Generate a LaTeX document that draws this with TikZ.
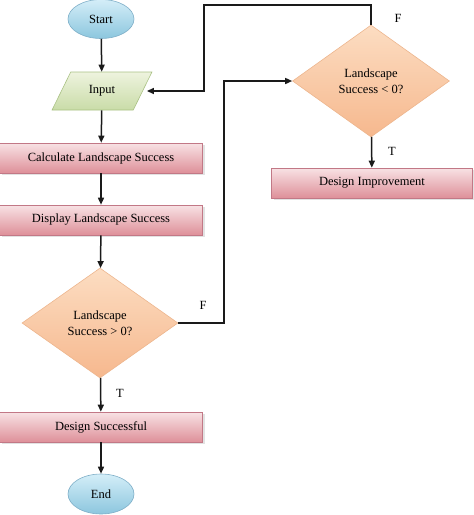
\documentclass[tikz,border=0pt]{standalone}
\usepackage{fontspec}
\setmainfont{Liberation Serif}
\usetikzlibrary{shapes.geometric,arrows.meta,shadows}
\definecolor{termtop}{HTML}{D4EEF8}
\definecolor{termbot}{HTML}{8CC6DE}
\definecolor{termline}{HTML}{7FAFC8}
\definecolor{iotop}{HTML}{EEF3DE}
\definecolor{iobot}{HTML}{C9DCA8}
\definecolor{ioline}{HTML}{A9C184}
\definecolor{boxtop}{HTML}{F8E2E4}
\definecolor{boxbot}{HTML}{DE9099}
\definecolor{boxline}{HTML}{C27886}
\definecolor{dectop}{HTML}{FCDDC2}
\definecolor{decbot}{HTML}{F6B88E}
\definecolor{decline}{HTML}{EDB68E}
\definecolor{lnk}{HTML}{1A1A1A}
\begin{document}
\begin{tikzpicture}[x=1pt,y=-1pt,
  every node/.style={font=\fontsize{12.5}{14}\selectfont, text=black},
  term/.style={ellipse, draw=termline, line width=0.6pt, top color=termtop, bottom color=termbot, minimum width=66pt, minimum height=39pt, inner sep=0pt},
  io/.style={trapezium, trapezium left angle=54, trapezium right angle=126, trapezium stretches=true, draw=ioline, line width=0.6pt, top color=iotop, bottom color=iobot, minimum width=100pt, minimum height=38pt, inner sep=0pt},
  procbox/.style={rectangle, draw=boxline, line width=0.6pt, top color=boxtop, bottom color=boxbot, minimum height=30pt, inner sep=0pt, drop shadow={shadow xshift=2pt, shadow yshift=-2pt, fill=gray!45}},
  dec/.style={diamond, draw=decline, line width=0.6pt, top color=dectop, bottom color=decbot, inner sep=0pt, align=center, font=\fontsize{12.5}{15.5}\selectfont},
  arr/.style={draw=lnk, line width=1.5pt, -{Triangle[length=7pt, width=6pt]}},
  lbl/.style={font=\fontsize{12.5}{14}\selectfont}
]
\useasboundingbox (0,0) rectangle (474,515);

\node[term] (start) at (101,19) {Start};
\node[io] (input) at (102,91) {Input};
\node[procbox, minimum width=203pt] (calc) at (101,158) {Calculate Landscape Success};
\node[procbox, minimum width=203pt] (disp) at (101,220) {Display Landscape Success};
\node[dec, minimum width=156pt, minimum height=110pt] (d1) at (100,323) {Landscape\\Success > 0?};
\node[procbox, minimum width=203pt] (succ) at (101,427) {Design Successful};
\node[term, minimum height=40pt] (end) at (101,494) {End};

\node[dec, minimum width=157pt, minimum height=112pt] (d2) at (371,81) {Landscape\\Success < 0?};
\node[procbox, minimum width=201pt] (impr) at (372,183) {Design Improvement};

\coordinate (r1) at (224,323);
\coordinate (t1) at (204,5);

\draw[arr] (start) -- (input);
\draw[arr] (input) -- (calc);
\draw[arr] (calc) -- (disp);
\draw[arr] (disp) -- (d1);
\draw[arr] (d1) -- (succ);
\draw[arr] (succ) -- (end);
\draw[arr] (d1.east) -- (r1) |- (d2.west);
\draw[arr] (d2) -- (impr);
\draw[arr, shorten >=4pt] (d2.north) |- (t1) |- (input.east);

\node[lbl] (f1) at (203,305) {F};
\node[lbl] (tt1) at (120,393) {T};
\node[lbl] (f2) at (398,18) {F};
\node[lbl] (tt2) at (392,151) {T};
\end{tikzpicture}
\end{document}
